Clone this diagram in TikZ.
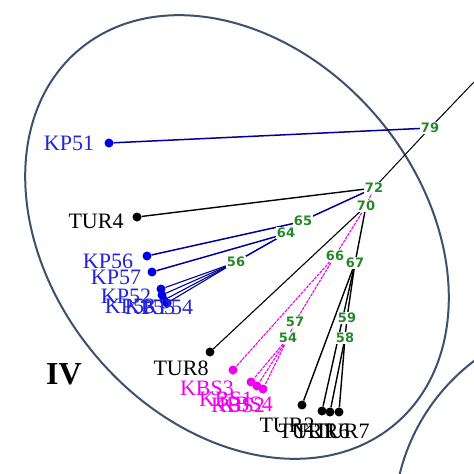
\documentclass[tikz,border=0pt]{standalone}
\usepackage{fontspec}
\setmainfont{Liberation Serif}
\newfontfamily\numfont{DejaVu Sans}
\definecolor{ellc}{RGB}{60,80,112}
\definecolor{bline}{RGB}{0,0,150}
\definecolor{btext}{RGB}{35,35,215}
\definecolor{mag}{RGB}{240,0,240}
\definecolor{gnum}{RGB}{40,135,40}
\tikzset{
  dotb/.style={circle,fill=blue!90!black,inner sep=0pt,minimum size=9pt},
  dotk/.style={circle,fill=black,inner sep=0pt,minimum size=9pt},
  dotm/.style={circle,fill=mag,inner sep=0pt,minimum size=9pt},
  leaf/.style={inner sep=0pt,font=\fontsize{22}{22}\selectfont},
  leafb/.style={leaf,text=btext},
  leafk/.style={leaf,text=black},
  leafm/.style={leaf,text=mag},
  num/.style={fill=white,inner sep=1pt,text=gnum,font=\numfont\bfseries\fontsize{13}{13}\selectfont},
  eb/.style={draw=bline,line width=1.5pt},
  ek/.style={draw=black,line width=1.4pt},
  em/.style={draw=mag,line width=1.1pt,dash pattern=on 3pt off 1pt},
  ring/.style={draw=ellc,line width=2pt}
}
\begin{document}
\begin{tikzpicture}[x=1pt,y=-1pt]
\useasboundingbox (0,0) rectangle (474,474);
\clip (0,0) rectangle (474,474);
\fill[white] (0,0) rectangle (474,474);
% groups
\begin{scope}[shift={(237,237)},rotate=-49.8]
\draw[ring] (0,0) ellipse [x radius=245, y radius=184.5];
\end{scope}
\draw[ring] (596,522) circle [radius=202];
% junctions
\coordinate (jtop) at (474,82);
\coordinate (j79) at (430,128);
\coordinate (j72) at (374,188);
\coordinate (j70) at (366,206);
\coordinate (j65) at (300,222);
\coordinate (j64) at (285,234);
\coordinate (j56) at (234,263);
\coordinate (j66) at (335,256);
\coordinate (j57) at (295,322);
\coordinate (j54) at (288,338);
\coordinate (j67) at (355,263);
\coordinate (j59) at (347,318);
\coordinate (j58) at (345,338);
% leaves (dots)
\node[dotb] (kp51) at (109,143) {};
\node[dotk] (tur4) at (137,217) {};
\node[dotb] (kp56) at (147,256) {};
\node[dotb] (kp57) at (152,272) {};
\node[dotb] (kp52) at (161,289) {};
\node[dotb] (kp53) at (162,295) {};
\node[dotb] (kp55) at (164,300) {};
\node[dotb] (kp54) at (167,303) {};
\node[dotk] (tur8) at (210,352) {};
\node[dotm] (kbs3) at (233,370) {};
\node[dotm] (kbs1) at (251,382) {};
\node[dotm] (kbs2) at (257,386) {};
\node[dotm] (kbs4) at (263,389) {};
\node[dotk] (tur2) at (302,405) {};
\node[dotk] (tur1) at (322,411) {};
\node[dotk] (tur6) at (330,412) {};
\node[dotk] (tur7) at (339,412) {};
% edges
\draw[ek,line width=1pt] (jtop) -- (j79);
\draw[eb] (kp51) -- (j79);
\draw[ek,line width=1pt] (j79) -- (j72);
\draw[ek] (tur4) -- (j72);
\draw[eb] (j72) -- (j65);
\draw[em] (j72) -- (j70);
\draw[em] (j70) -- (j66);
\draw[ek] (j70) -- (j67);
\draw[ek,line width=1.1pt] (j70) -- (tur8);
\draw[eb] (j65) -- (kp56);
\draw[eb] (j65) -- (j64);
\draw[eb] (j64) -- (kp57);
\draw[eb] (j64) -- (j56);
\draw[eb,line width=1.1pt] (j56) -- (kp52);
\draw[eb,line width=1.1pt] (j56) -- (kp53);
\draw[eb,line width=1.1pt] (j56) -- (kp55);
\draw[eb,line width=1.1pt] (j56) -- (kp54);
\draw[em] (j66) -- (kbs3);
\draw[em] (j66) -- (j57);
\draw[em] (j57) -- (j54);
\draw[em] (j54) -- (kbs1);
\draw[em] (j54) -- (kbs2);
\draw[em] (j54) -- (kbs4);
\draw[ek] (j67) -- (tur2);
\draw[ek] (j67) -- (tur1);
\draw[ek] (j67) -- (j59);
\draw[ek] (j59) -- (j58);
\draw[ek] (j58) -- (tur6);
\draw[ek] (j58) -- (tur7);
% internal labels
\node[num] (n79) at (j79) {79};
\node[num] (n72) at (j72) {72};
\node[num] (n70) at (j70) {70};
\node[num] (n65) at (303,221) {65};
\node[num] (n64) at (286,233) {64};
\node[num] (n56) at (236,262) {56};
\node[num] (n66) at (j66) {66};
\node[num] (n57) at (j57) {57};
\node[num] (n54) at (j54) {54};
\node[num] (n67) at (j67) {67};
\node[num] (n59) at (j59) {59};
\node[num] (n58) at (j58) {58};
% leaf labels
\node[leafb] (kp51t) at (69,143) {KP51};
\node[leafk] (tur4t) at (96,221) {TUR4};
\node[leafb] (kp56t) at (108,261) {KP56};
\node[leafb] (kp57t) at (116,277) {KP57};
\node[leafb] (kp52t) at (126,296) {KP52};
\node[leafb] (kp53t) at (130,306) {KP53};
\node[leafb] (kp55t) at (150,307) {KP55};
\node[leafb] (kp54t) at (168,307) {KP54};
\node[leafk] (tur8t) at (181,368) {TUR8};
\node[leafm] (kbs3t) at (207,388) {KBS3};
\node[leafm] (kbs1t) at (226,399) {KBS1};
\node[leafm] (kbs2t) at (238,405) {KBS2};
\node[leafm] (kbs4t) at (246,404) {KBS4};
\node[leafk] (tur2t) at (287,425) {TUR2};
\node[leafk] (tur1t) at (306,431) {TUR1};
\node[leafk] (tur6t) at (322,431) {TUR6};
\node[leafk] (tur7t) at (342,431) {TUR7};
% group label
\node[inner sep=0pt,font=\fontsize{32}{32}\selectfont\bfseries] (grp) at (64,374) {IV};
\end{tikzpicture}
\end{document}
